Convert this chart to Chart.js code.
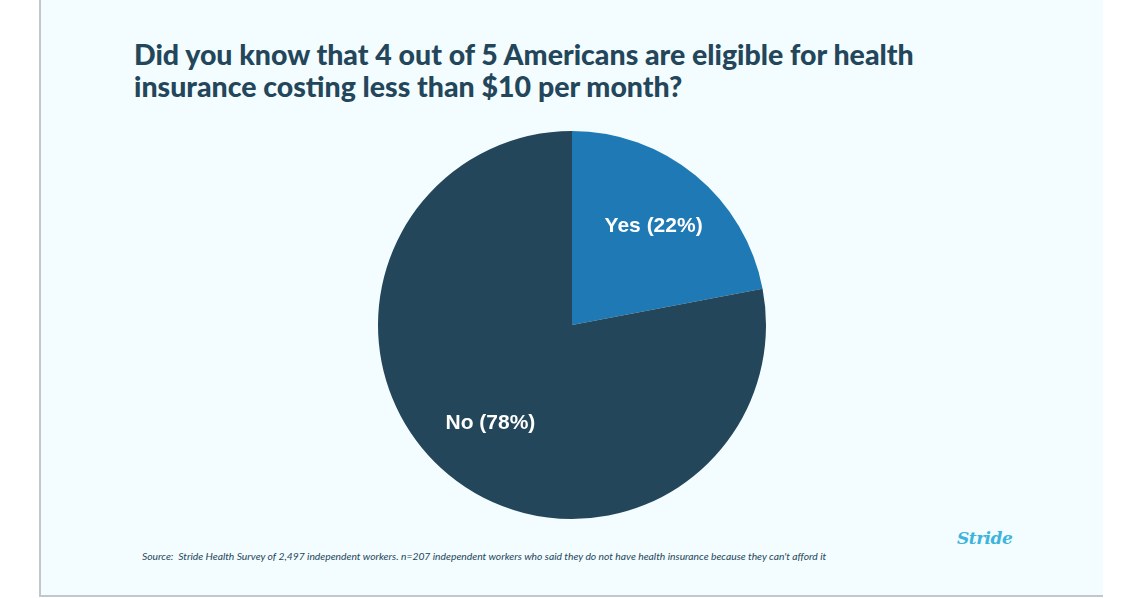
<!DOCTYPE html>
<html>
<head>
<meta charset="utf-8">
<script src="https://cdn.jsdelivr.net/npm/chart.js@4"></script>
<style>
  body { margin: 0; background: #fff; width: 1141px; height: 598px; overflow: hidden; }
  #slide {
    position: absolute; left: 39px; top: 0; width: 1062px; height: 595px;
    background: #f3fcfe; border-left: 2px solid #c4c7c9; border-bottom: 2px solid #c4c7c9;
  }
  #title {
    position: absolute; left: 134px; top: 38px; margin: 0;
    font-family: Lato, sans-serif; font-weight: 900; font-size: 28.5px; line-height: 32px;
    color: #23465b;
  }
  #source {
    position: absolute; left: 142px; top: 550px;
    font-family: Lato, sans-serif; font-style: italic; font-size: 10.3px; color: #23465b;
  }
  #logo {
    position: absolute; left: 957px; top: 528px;
    font-family: "DejaVu Serif", serif; font-style: italic; font-weight: bold; font-size: 17px;
    color: #3cb4dc; letter-spacing: -0.5px;
  }
  #wrap { position: absolute; left: 372px; top: 125px; width: 400px; height: 400px; }
</style>
</head>
<body>
<div id="slide"></div>
<h1 id="title">Did you know that 4 out of 5 Americans are eligible for health<br>insurance costing less than $10 per month?</h1>
<div id="wrap"><canvas id="pie-chart" width="400" height="400"></canvas></div>
<div id="source">Source:&nbsp; Stride Health Survey of 2,497 independent workers. n=207 independent workers who said they do not have health insurance because they can't afford it</div>
<div id="logo">Stride</div>
<script>
const labels = ["Yes", "No"];
const values = [22, 78];
const colors = ["#1e79b4", "#23465b"];

// draw "Yes (22%)" style labels inside the slices
const sliceLabels = {
    id: "sliceLabels",
    afterDatasetsDraw(chart) {
        const ctx = chart.ctx;
        const meta = chart.getDatasetMeta(0);
        ctx.save();
        ctx.font = "bold 21px 'Liberation Sans', Arial, sans-serif";
        ctx.fillStyle = "#ffffff";
        ctx.textAlign = "center";
        ctx.textBaseline = "middle";
        meta.data.forEach((arc, i) => {
            const mid = (arc.startAngle + arc.endAngle) / 2;
            const r = arc.outerRadius * 0.66;
            const x = arc.x + Math.cos(mid) * r;
            const y = arc.y + Math.sin(mid) * r;
            ctx.fillText(labels[i] + " (" + values[i] + "%)", x, y);
        });
        ctx.restore();
    }
};

var chrt = document.getElementById("pie-chart").getContext("2d");
var chartId = new Chart(chrt, {
    type: "pie",
    data: {
        labels: labels,
        datasets: [{
            data: values,
            backgroundColor: colors,
            borderWidth: 0
        }]
    },
    options: {
        responsive: false,
        animation: false,
        layout: { padding: 6 },
        plugins: {
            legend: { display: false },
            tooltip: { enabled: false }
        }
    },
    plugins: [sliceLabels]
});
</script>
</body>
</html>
